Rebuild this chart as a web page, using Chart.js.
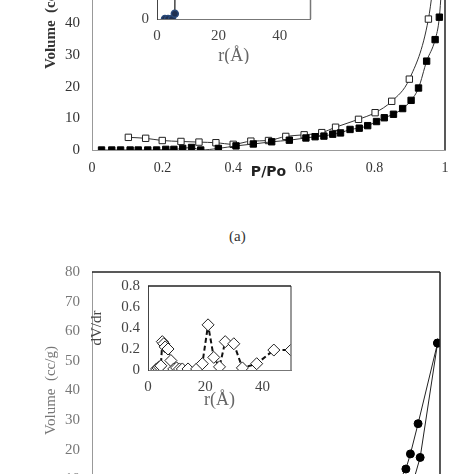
<!DOCTYPE html>
<html>
<head>
<meta charset="utf-8">
<script src="https://cdn.jsdelivr.net/npm/chart.js@4/dist/chart.umd.min.js"></script>
<style>
  body { margin: 0; width: 474px; height: 474px; overflow: hidden; background: #fff; position: relative; }
  .box { position: absolute; }
  #label-a { position: absolute; left: 229px; top: 228px; font: 15px "Liberation Serif"; color: #333; }
</style>
</head>
<body>
<div class="box" style="left:0;top:-116px;width:474px;height:316px"><canvas id="mainA"></canvas></div>
<div class="box" style="left:100px;top:-75px;width:216px;height:139px"><canvas id="insetA"></canvas></div>
<div id="label-a">(a)</div>
<div class="box" style="left:0;top:259px;width:474px;height:300px"><canvas id="mainB"></canvas></div>
<div class="box" style="left:88px;top:276px;width:210px;height:139px"><canvas id="insetB"></canvas></div>
<script>
// --- (a) isotherm --- //
let adsAx = [0.027, 0.056, 0.081, 0.108, 0.131, 0.158, 0.183, 0.209, 0.232, 0.257, 0.282, 0.308, 0.358, 0.408, 0.457, 0.509, 0.559, 0.606, 0.632, 0.657, 0.682, 0.704, 0.731, 0.757, 0.781, 0.806, 0.828, 0.854, 0.880, 0.904, 0.925, 0.948, 0.972, 0.984, 0.995];
let adsAy = [0, 0, 0, 0, 0, 0, 0, 0.2, 0.2, 0.5, 0.8, 0, 0.5, 1.3, 1.9, 2.6, 3.1, 3.8, 4.2, 4.4, 5.0, 5.4, 6.5, 6.9, 7.7, 9.0, 10.2, 11.3, 13.1, 15.7, 19.6, 28.1, 34.9, 42.0, 60];
let desAx = [0.103, 0.152, 0.199, 0.252, 0.303, 0.351, 0.400, 0.450, 0.500, 0.549, 0.601, 0.651, 0.690, 0.755, 0.802, 0.849, 0.899, 0.953, 0.975];
let desAy = [4.0, 3.7, 3.0, 2.7, 2.5, 2.3, 1.8, 2.8, 3.0, 4.3, 4.8, 5.5, 7.2, 9.7, 11.8, 15.4, 22.4, 41.4, 60];
// inset (a) pore size
let poreAr = [2.6, 3.6, 4.9, 5.8, 6.2];
let poreAv = [0, 0, 0, 0.025, 1.0];

// --- (b) isotherm --- //
let adsBx = [0.92, 0.943, 0.993];
let adsBy = [8, 17.4, 56];
let desBx = [0.88, 0.902, 0.915, 0.937, 0.993];
let desBy = [9, 13.5, 18.6, 28.8, 56];
// inset (b) pore size
let poreBr = [3, 3.5, 4, 4.5, 5, 5.5, 6, 7, 8, 9, 10, 11, 12, 14, 17, 19, 21, 23, 25, 27, 30, 33, 38, 44, 50];
let poreBv = [0.01, 0.02, 0.03, 0.04, 0.27, 0.25, 0.22, 0.2, 0.09, 0.01, 0.02, 0.01, 0.01, 0.01, 0.01, 0.06, 0.43, 0.12, 0.03, 0.27, 0.25, 0.02, 0.06, 0.19, 0.19];

let rTicks = [0, 20, 40];

function pts(xs, ys) {
  return xs.map((x, i) => ({ x: x, y: ys[i] }));
}

const serif = "Liberation Serif";

// white plot background for insets + box around the plot area
const frame = {
  id: "frame",
  beforeDraw(chart, args, opts) {
    if (!opts.fill) return;
    let a = chart.chartArea;
    chart.ctx.save();
    chart.ctx.fillStyle = "#fff";
    chart.ctx.fillRect(a.left, a.top, a.right - a.left, a.bottom - a.top);
    chart.ctx.restore();
  },
  afterDraw(chart, args, opts) {
    let a = chart.chartArea;
    let c = chart.ctx;
    c.save();
    c.lineWidth = 1.5;
    c.strokeStyle = opts.right || "#222";
    c.beginPath(); c.moveTo(a.right, a.top); c.lineTo(a.right, a.bottom); c.stroke();
    c.strokeStyle = opts.top || "#222";
    c.beginPath(); c.moveTo(a.left, a.top); c.lineTo(a.right, a.top); c.stroke();
    c.restore();
  },
};

function mainChart(id, datasets, tickColor, titleFont, pad, hideX) {
  return new Chart(document.getElementById(id), {
    type: "scatter",
    data: { datasets: datasets },
    plugins: [frame],
    options: {
      responsive: true,
      maintainAspectRatio: false,
      animation: false,
      layout: { padding: { top: 10, right: pad, left: 42, bottom: 0 } },
      plugins: { legend: { display: false }, tooltip: { enabled: false }, frame: {} },
      scales: {
        x: {
          min: 0, max: 1,
          grid: { display: false },
          border: { color: "#999" },
          ticks: { stepSize: 0.2, color: tickColor, font: { family: serif, size: 14 }, display: !hideX, padding: 2,
            callback: (v) => String(+v.toFixed(1)) },
          title: { display: !hideX, text: "P/Po", color: "#222", font: { family: "DejaVu Sans", size: 14, weight: "bold" }, padding: { top: 0, bottom: 19 } },
          afterFit: (s) => { s.height = 50; },
        },
        y: {
          min: 0, max: 80,
          grid: { display: false },
          border: { color: "#999" },
          ticks: { stepSize: 10, color: tickColor, font: { family: serif, size: 15 }, padding: 4 },
          title: { display: true, text: "Volume  (cc/g)", color: tickColor, font: titleFont, padding: 0 },
          afterFit: (s) => { s.width = 50; },
        },
      },
    },
  });
}

function insetChart(id, ds, axisW, pad, yMax, titleBottom) {
  return new Chart(document.getElementById(id), {
    type: "scatter",
    data: { datasets: [ds] },
    plugins: [frame],
    options: {
      responsive: true,
      maintainAspectRatio: false,
      animation: false,
      layout: { padding: { top: 10, right: pad, left: 0, bottom: 0 } },
      plugins: { legend: { display: false }, tooltip: { enabled: false }, frame: { right: "#777", fill: true } },
      scales: {
        x: {
          min: 0, max: 50,
          grid: { display: false },
          border: { color: "#777" },
          afterBuildTicks: (s) => { s.ticks = rTicks.map((v) => ({ value: v })); },
          ticks: { color: "#444", font: { family: serif, size: 15 }, padding: 0 },
          title: { display: true, text: "r(Å)", color: "#666", font: { family: serif, size: 18 }, padding: { top: 0, bottom: titleBottom } },
          afterFit: (s) => { s.height = 45; },
        },
        y: {
          min: 0, max: yMax,
          grid: { display: false },
          border: { color: "#444" },
          ticks: { stepSize: 0.2, autoSkip: false, color: "#444", font: { family: serif, size: 15 }, padding: 0 },
          title: { display: true, text: "dV/dr", color: "#444", font: { family: serif, size: 15 }, padding: 0 },
          afterFit: (s) => { s.width = axisW; },
        },
      },
    },
  });
}

let lineA = { showLine: true, borderColor: "#333", borderWidth: 1, cubicInterpolationMode: "monotone", pointStyle: "rect", pointRadius: 4.5 };

mainChart("mainA", [
  Object.assign({}, lineA, { data: pts(adsAx, adsAy), backgroundColor: "#000", pointBorderColor: "#000" }),
  Object.assign({}, lineA, { data: pts(desAx, desAy), backgroundColor: "#fff", pointBorderColor: "#222" }),
], "#333", { family: serif, size: 15, weight: "bold" }, 29, false);

insetChart("insetA", {
  data: pts(poreAr, poreAv), showLine: true, borderColor: "#444", borderWidth: 1.5,
  pointRadius: 3.5, backgroundColor: "#1f3050", pointBorderColor: "#2a4a7a",
}, 57, 5, 0.4, -3);

mainChart("mainB", [
  { data: pts(adsBx, adsBy), showLine: true, borderColor: "#222", borderWidth: 1, pointRadius: 4, backgroundColor: "#000", pointBorderColor: "#000" },
  { data: pts(desBx, desBy), showLine: true, borderColor: "#222", borderWidth: 1, pointRadius: 4, backgroundColor: "#000", pointBorderColor: "#000" },
], "#777", { family: serif, size: 15 }, 34, true);

insetChart("insetB", {
  data: pts(poreBr, poreBv), showLine: true, borderColor: "#111", borderWidth: 2, borderDash: [5, 3],
  pointStyle: "rectRot", pointRadius: 6, backgroundColor: "#fff", pointBorderColor: "#222", pointBorderWidth: 1,
}, 60, 3, 0.8, 4);
</script>
</body>
</html>
